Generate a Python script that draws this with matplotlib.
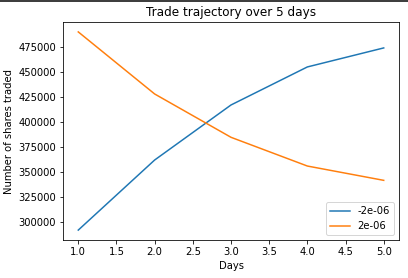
import matplotlib
matplotlib.use("Agg")
import matplotlib.pyplot as plt
from matplotlib.lines import Line2D

days = [1, 2, 3, 4, 5]
shares_neg = [292000, 362000, 417000, 455000, 474000]
shares_pos = [490000, 428000, 384700, 356000, 341700]
labels = ["-2e-06", "2e-06"]

fig = plt.figure(figsize=(408 / 72, 278 / 72), dpi=72)
ax = fig.add_axes([63 / 408, 38 / 278, 336 / 408, 218 / 278])

ax.plot(days, shares_neg, label=labels[0])
ax.plot(days, shares_pos, label=labels[1])

ax.set_title("Trade trajectory over 5 days")
ax.set_xlabel("Days")
ax.set_ylabel("Number of shares traded")
ax.legend(loc="lower right")

# thin dark border along the top edge, as in the screenshot
fig.add_artist(Line2D([0, 1], [0.998, 0.998], color="black", linewidth=1.5,
                      transform=fig.transFigure))

fig.savefig("out.png", dpi=72)
